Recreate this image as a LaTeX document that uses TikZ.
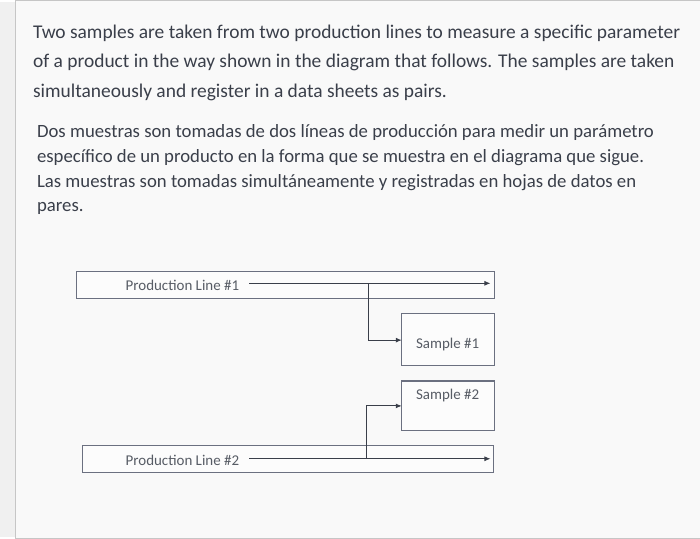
\documentclass[tikz,border=0pt]{standalone}
\usepackage{fontspec}
\setmainfont{Carlito}
\usetikzlibrary{arrows.meta}
\definecolor{ink}{HTML}{3A3F4A}
\definecolor{boxc}{HTML}{6B7080}
\begin{document}
\begin{tikzpicture}[x=1pt,y=-1pt,
  para/.style={anchor=base west,inner sep=0,text=ink},
  pbox/.style={draw=boxc,line width=1.1pt,fill=white!70!gray!8},
  lbl/.style={font=\fontsize{15}{17}\selectfont,text=ink!85,inner sep=0},
  flow/.style={draw=ink,line width=0.9pt,-{Latex[length=6pt,width=5pt]}}]
\fill[gray!12] (0,0) rectangle (700,536);
\draw[fill=white!95!gray,draw=gray!45] (15,-2) rectangle (702,538);
\useasboundingbox (0,0) rectangle (700,536);
\begin{scope}[font=\fontsize{19.5}{22}\selectfont]
\node[para] (t1) at (33,36) {Two samples are taken from two production lines to measure a specific parameter};
\node[para] (t2) at (33,66) {of a product in the way shown in the diagram that follows. The samples are taken};
\node[para] (t3) at (33,96) {simultaneously and register in a data sheets as pairs.};
\end{scope}
\begin{scope}[font=\fontsize{18.8}{21}\selectfont]
\node[para] (s1) at (37,136) {Dos muestras son tomadas de dos líneas de producción para medir un parámetro};
\node[para] (s2) at (37,161) {específico de un producto en la forma que se muestra en el diagrama que sigue.};
\node[para] (s3) at (37,186) {Las muestras son tomadas simultáneamente y registradas en hojas de datos en};
\node[para] (s4) at (37,210) {pares.};
\end{scope}
\path[pbox] (77,270) rectangle (496,297);
\path[pbox] (403,312) rectangle (496,364);
\path[pbox] (403,380) rectangle (496,430);
\path[pbox] (83,445) rectangle (495,472);
\node[lbl] (p1) at (183,284) {Production Line \#1};
\node[lbl] (p2) at (183,460) {Production Line \#2};
\node[lbl] (sa1) at (449,343) {Sample \#1};
\node[lbl] (sa2) at (449,395) {Sample \#2};
\coordinate (a1s) at (250,282);
\coordinate (a1e) at (492,282);
\coordinate (b1) at (370,282);
\coordinate (b1e) at (403,339);
\coordinate (a2s) at (250,458);
\coordinate (a2e) at (492,458);
\coordinate (b2) at (368,458);
\coordinate (b2e) at (403,405);
\draw[flow] (a1s) -- (a1e);
\draw[flow] (b1) |- (b1e);
\draw[flow] (a2s) -- (a2e);
\draw[flow] (b2) |- (b2e);
\end{tikzpicture}
\end{document}
